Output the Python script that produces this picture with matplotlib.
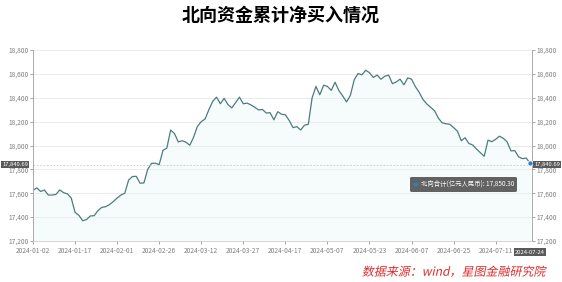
import numpy as np
import pandas as pd
import matplotlib
matplotlib.use("Agg")
import matplotlib.pyplot as plt
from matplotlib.patches import FancyBboxPatch, PathPatch
from matplotlib.textpath import TextPath
from matplotlib.font_manager import FontProperties
from matplotlib.transforms import Affine2D, IdentityTransform

plt.rcParams['font.family'] = ['Noto Sans CJK SC', 'DejaVu Sans']

# trading days (Stock Connect closed on these weekdays)
holidays = ['2024-02-09', '2024-02-12', '2024-02-13', '2024-02-14', '2024-02-15',
            '2024-02-16', '2024-03-29', '2024-04-01', '2024-04-04', '2024-04-05',
            '2024-05-01', '2024-05-02', '2024-05-03', '2024-05-15', '2024-06-10',
            '2024-07-01']
dates = pd.bdate_range('2024-01-02', '2024-07-24', freq='C', holidays=holidays)
date_labels = [d.strftime('%Y-%m-%d') for d in dates]

# cumulative northbound net buying (100m CNY)
net_buy = [17625, 17645, 17615, 17627, 17585, 17585, 17590, 17628, 17605, 17595,
           17560, 17440, 17415, 17370, 17380, 17410, 17412, 17455, 17482, 17487,
           17505, 17530, 17560, 17585, 17600, 17710, 17740, 17742, 17684, 17686,
           17800, 17850, 17852, 17840, 17960, 17978, 18130, 18100, 18030, 18040,
           18028, 18002, 18070, 18160, 18200, 18222, 18300, 18370, 18405, 18350,
           18395, 18342, 18315, 18360, 18405, 18350, 18355, 18340, 18320, 18298,
           18302, 18272, 18275, 18215, 18283, 18262, 18257, 18210, 18150, 18158,
           18130, 18170, 18178, 18400, 18495, 18425, 18505, 18495, 18462, 18530,
           18460, 18415, 18365, 18420, 18550, 18603, 18592, 18630, 18610, 18570,
           18590, 18555, 18580, 18590, 18518, 18532, 18556, 18508, 18566, 18556,
           18493, 18445, 18385, 18348, 18320, 18292, 18230, 18190, 18182, 18178,
           18150, 18120, 18040, 18065, 18017, 18004, 17970, 17940, 17910, 18045,
           18032, 18052, 18078, 18060, 18030, 17955, 17957, 17905, 17890, 17895,
           17850.30]
n = min(len(dates), len(net_buy))
date_labels = date_labels[:n]
net_buy = net_buy[:n]
y_ticks = [17200, 17400, 17600, 17800, 18000, 18200, 18400, 18600, 18800]
cross_value = 17840.69

W, H = 562, 282
fig = plt.figure(figsize=(W / 100, H / 100), dpi=100)
ax = fig.add_axes([33 / W, 41 / H, 499 / W, 191 / H])

x = np.arange(n)
ax.fill_between(x, net_buy, 17200, color='#e3f2f2', alpha=0.3, lw=0)
ax.plot(x, net_buy, color='#4d7c7c', lw=0.9)
ax.scatter([x[-1]], [net_buy[-1]], s=14, color='#2f7fc0', edgecolor='white', lw=0.6, zorder=5)
ax.axhline(cross_value, color='#c8c8c8', lw=0.6, ls=(0, (2, 2)))

ax.set_xlim(0, n - 1 + 0.5)
ax.set_ylim(17200, 18800)
ax.set_yticks(y_ticks)
ax.set_yticklabels([f'{v:,}' for v in y_ticks])
ax.tick_params(axis='y', which='both', left=True, right=True, labelleft=True, labelright=True,
               labelsize=4.8, colors='#808080', length=2, width=0.5, pad=1)
xt = list(range(0, n - 1, 11))
ax.set_xticks(xt)
ax.set_xticklabels([date_labels[i] for i in xt])
ax.tick_params(axis='x', labelsize=4.8, colors='#808080', length=2, width=0.5, pad=2)
ax.grid(axis='y', color='#e8e8e8', lw=0.6)
ax.set_axisbelow(True)
for s in ['left', 'right']:
    ax.spines[s].set_color('#aaaaaa')
    ax.spines[s].set_linewidth(0.7)
ax.spines['bottom'].set_color('#cccccc')
ax.spines['bottom'].set_linewidth(0.6)
ax.spines['top'].set_visible(False)

# crosshair value boxes
yb = ax.transData.transform((0, cross_value))[1] / H
fig.text(15 / W, yb, f'{cross_value:,.2f}', ha='center', va='center', fontsize=4.2, color='white',
         bbox=dict(boxstyle='square,pad=0.25', fc='#5a5a5a', ec='none'))
fig.text(547 / W, yb, f'{cross_value:,.2f}', ha='center', va='center', fontsize=4.2, color='white',
         bbox=dict(boxstyle='square,pad=0.25', fc='#5a5a5a', ec='none'))
fig.text(530 / W, 30 / H, date_labels[-1], ha='center', va='center', fontsize=4.2, color='white',
         bbox=dict(boxstyle='square,pad=0.25', fc='#5a5a5a', ec='none'))

# tooltip
tip = FancyBboxPatch((410 / W, 90 / H), 107 / W, 15 / H, boxstyle='round,pad=0,rounding_size=0.004',
                     transform=fig.transFigure, fc='#555555', ec='none', alpha=0.92)
fig.add_artist(tip)
fig.add_artist(plt.Circle((416 / W, 97.5 / H), 2.2 / W, transform=fig.transFigure, color='#2f7fc0'))
fig.text(421 / W, 97.5 / H, f'北向合计(亿元人民币): {net_buy[-1]:,.2f}', ha='left', va='center',
         fontsize=4.6, color='white')

# title
fig.text(0.5, 1 - 15 / H, '北向资金累计净买入情况', ha='center', va='center', fontsize=13,
         fontweight='bold', color='black')

# source note (slanted)
src = '数据来源：wind，星图金融研究院'
tp = TextPath((0, 0), src, size=12, prop=FontProperties(family='Noto Sans CJK SC'))
bb = tp.get_extents()
tr = Affine2D().translate(-bb.x0, -bb.y0).skew_deg(12, 0).translate(362, 282 - 277)
fig.add_artist(PathPatch(tr.transform_path(tp), transform=IdentityTransform(),
                         fc='#e02a2a', ec='none'))

fig.savefig('out.png', dpi=100)
